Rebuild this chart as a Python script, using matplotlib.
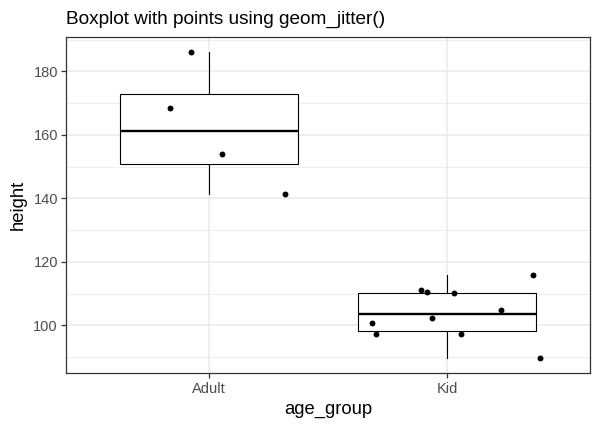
import numpy as np
import matplotlib
matplotlib.use("Agg")
import matplotlib.pyplot as plt

plt.rcParams['font.family'] = ['Liberation Sans', 'DejaVu Sans']

# data
groups = ["Adult", "Kid"]
adult_height = [186.0, 168.4, 154.0, 141.5]
kid_height = [115.9, 111.2, 110.4, 110.1, 104.9, 102.4, 100.7, 97.4, 97.4, 89.7]
# horizontal jitter of each point (in category units)
adult_jitter = [-0.077, -0.165, 0.053, 0.319]
kid_jitter = [0.36, -0.108, -0.085, 0.030, 0.225, -0.064, -0.315, -0.299, 0.057, 0.39]

y_major = [100, 120, 140, 160, 180]
y_minor = [90, 110, 130, 150, 170, 190]

fig = plt.figure(figsize=(6.0, 4.29), dpi=100)
ax = fig.add_axes([0.1105, 0.1298, 0.8728, 0.7847])

grid_col = "#EBEBEB"
for y in y_minor:
    ax.axhline(y, color=grid_col, lw=0.6, zorder=0)
for y in y_major:
    ax.axhline(y, color=grid_col, lw=1.1, zorder=0)
for x in range(1, len(groups) + 1):
    ax.axvline(x, color=grid_col, lw=1.1, zorder=0)

ax.boxplot([adult_height, kid_height], positions=[1, 2], widths=0.75,
           showcaps=False, showfliers=False, patch_artist=True,
           boxprops=dict(facecolor="white", edgecolor="black", linewidth=0.8),
           whiskerprops=dict(color="black", linewidth=0.8),
           medianprops=dict(color="black", linewidth=1.7),
           zorder=2)

xs = [1 + j for j in adult_jitter] + [2 + j for j in kid_jitter]
ys = adult_height + kid_height
ax.scatter(xs, ys, s=18, color="black", zorder=3, linewidths=0)

ax.set_xlim(0.4, 2.6)
ax.set_ylim(84.9, 190.9)
ax.set_xticks([1, 2])
ax.set_xticklabels(groups)
ax.set_yticks(y_major)

for sp in ax.spines.values():
    sp.set_color("#333333")
    sp.set_linewidth(0.9)
ax.tick_params(axis="both", colors="#333333", length=3.5, width=0.9,
               labelsize=10.5, labelcolor="#4D4D4D", pad=2.5)

ax.set_xlabel("age_group", fontsize=13.3, labelpad=4)
ax.set_ylabel("height", fontsize=13.3, labelpad=5)
ax.set_title("Boxplot with points using geom_jitter()", fontsize=13.7,
             loc="left", pad=9)

fig.savefig("out.png", dpi=100)
